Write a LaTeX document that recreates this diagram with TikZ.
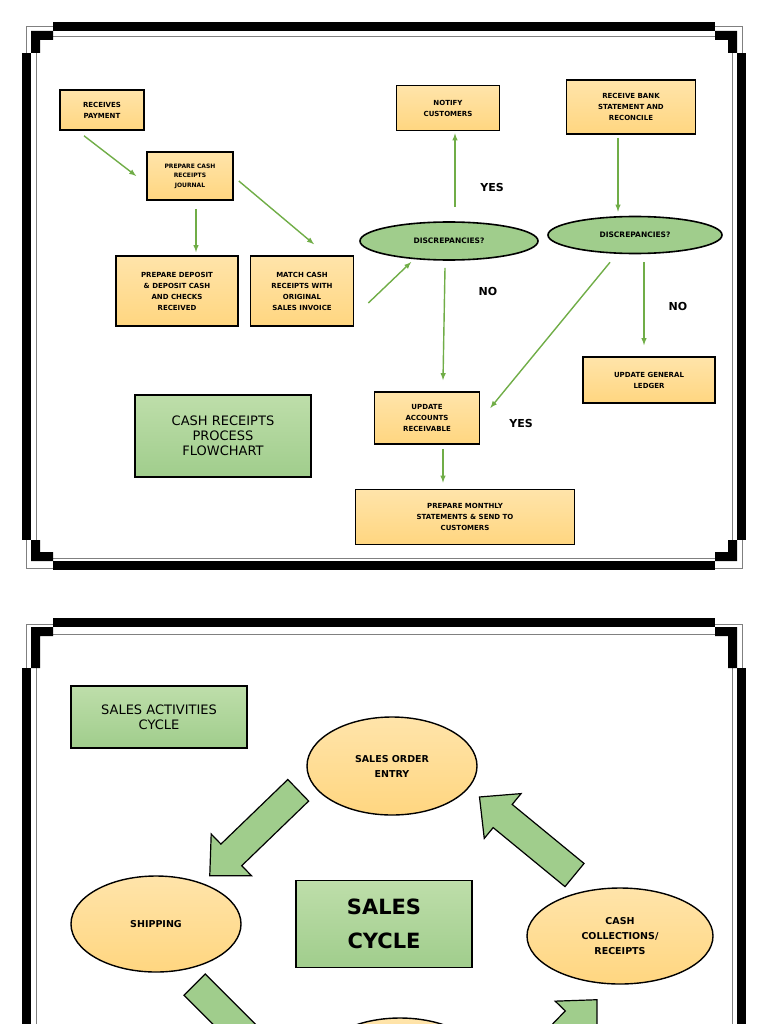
\documentclass[tikz,border=0pt]{standalone}
\usepackage{fontspec}
\setmainfont{DejaVu Sans}
\usetikzlibrary{shapes.geometric, arrows, positioning, calc}

\definecolor{boxorange}{RGB}{255,214,128}
\definecolor{boxorangetop}{RGB}{255,228,170}
\definecolor{boxgreen}{RGB}{160,205,140}
\definecolor{boxgreentop}{RGB}{190,222,170}
\definecolor{linegreen}{RGB}{112,173,71}

% block arrow: centre, angle, length
\newcommand{\blockarrow}[3]{%
  \begin{scope}[shift={#1}, rotate=#2]
    \draw[line width=1.2pt, fill=boxgreen] (-#3/2,-15) -- (#3/2-30,-15) -- (#3/2-30,-29) -- (#3/2,0)
      -- (#3/2-30,29) -- (#3/2-30,15) -- (-#3/2,15) -- cycle;
  \end{scope}}

\begin{document}
\begin{tikzpicture}[
    x=1pt, y=-1pt,
    box/.style={rectangle, draw, line width=1.6pt, align=center, inner sep=1pt, top color=boxorangetop, bottom color=boxorange, font=\fontsize{7}{11}\selectfont\bfseries},
    title/.style={rectangle, draw, line width=1.6pt, align=center, top color=boxgreentop, bottom color=boxgreen},
    oval/.style={ellipse, draw, line width=1.6pt, align=center, inner sep=0pt, font=\fontsize{7.5}{10}\selectfont\bfseries},
    phase/.style={ellipse, draw, line width=1.4pt, align=center, top color=boxorangetop, bottom color=boxorange, font=\fontsize{9.5}{15}\selectfont\bfseries},
    arrow/.style={-latex, line width=1.4pt, draw=linegreen},
    lbl/.style={font=\fontsize{11}{12}\selectfont\bfseries}
]
    \useasboundingbox (0,0) rectangle (768,1024);

    % Frame of the flowchart
    \draw[gray] (26,26) rectangle (742,568);
    \draw[gray] (36,36) rectangle (732,558);
    \fill (53,22) rectangle (715,31);
    \fill (53,561) rectangle (715,570);
    \fill (22,53) rectangle (31,540);
    \fill (737,53) rectangle (746,540);
    \fill (31,31) rectangle (53,40) (31,31) rectangle (40,53);
    \fill (715,31) rectangle (737,40) (728,31) rectangle (737,53);
    \fill (31,552) rectangle (53,561) (31,540) rectangle (40,561);
    \fill (715,552) rectangle (737,561) (728,540) rectangle (737,561);

    % Frame of the cycle
    \draw[gray] (26,624) rectangle (742,1100);
    \draw[gray] (36,634) rectangle (732,1100);
    \fill (53,618) rectangle (715,627);
    \fill (22,668) rectangle (31,1100);
    \fill (737,668) rectangle (746,1100);
    \fill (31,627) rectangle (53,636) (31,627) rectangle (40,668);
    \fill (715,627) rectangle (737,636) (728,627) rectangle (737,668);

    % Flowchart boxes
    \node[box, minimum width=84pt, minimum height=40pt] (payment) at (102,110) {RECEIVES\\PAYMENT};
    \node[box, minimum width=86pt, minimum height=48pt, font=\fontsize{6}{9.5}\selectfont\bfseries] (journal) at (190,176) {PREPARE CASH\\RECEIPTS\\JOURNAL};
    \node[box, minimum width=122pt, minimum height=70pt] (deposit) at (177,291) {PREPARE DEPOSIT\\\& DEPOSIT CASH\\AND CHECKS\\RECEIVED};
    \node[box, minimum width=103pt, minimum height=70pt] (match) at (302,291) {MATCH CASH\\RECEIPTS WITH\\ORIGINAL\\SALES INVOICE};
    \node[box, minimum width=103pt, minimum height=45pt] (notify) at (448,108) {NOTIFY\\CUSTOMERS};
    \node[box, minimum width=129pt, minimum height=54pt] (bank) at (631,107) {RECEIVE BANK\\STATEMENT AND\\RECONCILE};
    \node[oval, fill=boxgreen, minimum width=178pt, minimum height=38pt] (disc1) at (449,241) {DISCREPANCIES?};
    \node[oval, fill=boxgreen, minimum width=174pt, minimum height=37pt] (disc2) at (635,235) {DISCREPANCIES?};
    \node[box, minimum width=105pt, minimum height=52pt] (receivable) at (427,418) {UPDATE\\ACCOUNTS\\RECEIVABLE};
    \node[box, minimum width=132pt, minimum height=46pt] (ledger) at (649,380) {UPDATE GENERAL\\LEDGER};
    \node[box, minimum width=219pt, minimum height=55pt] (monthly) at (465,517) {PREPARE MONTHLY\\STATEMENTS \& SEND TO\\CUSTOMERS};
    \node[title, minimum width=176pt, minimum height=82pt, font=\fontsize{13}{15}\selectfont] (flowtitle) at (223,436) {CASH RECEIPTS\\PROCESS\\FLOWCHART};

    % Labels
    \node[lbl] (yes1) at (492,187) {YES};
    \node[lbl] (no1) at (488,291) {NO};
    \node[lbl] (no2) at (678,306) {NO};
    \node[lbl] (yes2) at (521,423) {YES};

    % Connectors
    \draw[arrow] ($(payment.south)+(-18,5)$) -- ($(journal.west)+(-10,0)$);
    \draw[arrow] ($(journal.south)+(6,8)$) -- ($(deposit.north)+(19,-3)$);
    \draw[arrow] ($(journal.east)+(5,5)$) -- ($(match.north)+(12,-11)$);
    \draw[arrow] ($(match.east)+(14,12)$) -- ($(disc1.west)+(52,21)$);
    \draw[arrow] ($(disc1.north)+(6,-14)$) -- ($(notify.south)+(7,2)$);
    \draw[arrow] ($(disc1.south)+(-4,7)$) -- ($(receivable.north)+(16,-11)$);
    \draw[arrow] ($(bank.south)+(-13,3)$) -- ($(disc2.north)+(-17,-4)$);
    \draw[arrow] ($(disc2.south)+(9,8)$) -- ($(ledger.north)+(-5,-11)$);
    \draw[arrow] ($(disc2.south)+(-25,8)$) -- ($(receivable.east)+(10,-10)$);
    \draw[arrow] ($(receivable.south)+(16,4)$) -- ($(monthly.north)+(-22,-6)$);

    % Sales cycle
    \node[title, minimum width=176pt, minimum height=62pt, font=\fontsize{13}{15}\selectfont] (cycletitle) at (159,717) {SALES ACTIVITIES\\CYCLE};
    \node[title, minimum width=176pt, minimum height=87pt, font=\fontsize{21}{34}\selectfont\bfseries] (salescycle) at (384,924) {SALES\\CYCLE};
    \node[phase, minimum width=170pt, minimum height=98pt] (order) at (392,766) {SALES ORDER\\ENTRY};
    \node[phase, minimum width=170pt, minimum height=96pt] (shipping) at (156,924) {SHIPPING};
    \node[phase, minimum width=186pt, minimum height=96pt] (cash) at (620,936) {CASH\\COLLECTIONS/\\RECEIPTS};
    \node[phase, minimum width=170pt, minimum height=96pt] (billing) at (400,1066) {};

    % Cycle arrows
    \blockarrow{(254,833)}{224}{123}
    \blockarrow{(527,836)}{140.6}{123}
    \blockarrow{(242,1032)}{-45}{134}
    \blockarrow{(558,1040)}{46}{112}
\end{tikzpicture}
\end{document}
